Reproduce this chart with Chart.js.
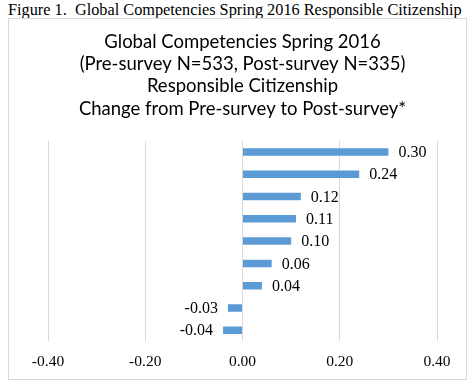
<!DOCTYPE html>
<html>
<head>
<meta charset="utf-8">
<script src="https://cdn.jsdelivr.net/npm/chart.js@4.4.0/dist/chart.umd.min.js"></script>
<style>
  body { margin: 0; background: #fff; width: 474px; height: 386px; overflow: hidden; }
  #caption { position: absolute; left: 8px; top: 0px; font-family: "Liberation Serif", serif; font-size: 16.3px; white-space: pre; color: #000; }
  #box { position: absolute; left: 8px; top: 18px; width: 457px; height: 360px; border: 1px solid #d9d9d9; }
  canvas { display: block; }
</style>
</head>
<body>
<div id="caption">Figure 1.  Global Competencies Spring 2016 Responsible Citizenship</div>
<div id="box"><canvas id="chart" width="457" height="360"></canvas></div>
<script>
// items are not named in the figure, only their change values
const items = ['Item 1', 'Item 2', 'Item 3', 'Item 4', 'Item 5', 'Item 6', 'Item 7', 'Item 8', 'Item 9'];
const changes = [0.30, 0.24, 0.12, 0.11, 0.10, 0.06, 0.04, -0.03, -0.04];
const xTicks = [-0.40, -0.20, 0.00, 0.20, 0.40];
const titleLines = [
    'Global Competencies Spring 2016',
    '(Pre-survey N=533, Post-survey N=335)',
    'Responsible Citizenship',
    'Change from Pre-survey to Post-survey*'
];

const valueLabels = {
    id: 'valueLabels',
    afterDatasetsDraw(chart) {
        const ctx = chart.ctx;
        const meta = chart.getDatasetMeta(0);
        ctx.save();
        ctx.font = '16px "Liberation Serif", serif';
        ctx.fillStyle = '#000';
        ctx.textBaseline = 'middle';
        meta.data.forEach((bar, i) => {
            const v = changes[i];
            if (v >= 0) {
                ctx.textAlign = 'left';
                ctx.fillText(v.toFixed(2), bar.x + 10, bar.y + 1);
            } else {
                ctx.textAlign = 'right';
                ctx.fillText(v.toFixed(2), bar.x - 10, bar.y + 1);
            }
        });
        ctx.restore();
    }
};

const ctx = document.getElementById('chart').getContext('2d');
new Chart(ctx, {
    type: 'bar',
    data: {
        labels: items,
        datasets: [{
            data: changes,
            backgroundColor: '#5b9bd5',
            barPercentage: 0.6,
            categoryPercentage: 0.56
        }]
    },
    options: {
        indexAxis: 'y',
        responsive: false,
        animation: false,
        layout: { padding: { left: 39, right: 29, top: 0, bottom: -3 } },
        plugins: {
            legend: { display: false },
            tooltip: { enabled: false },
            title: {
                display: true,
                text: titleLines,
                color: '#000',
                font: { family: 'Lato', size: 18.5, weight: 'normal', lineHeight: 1.2 },
                padding: { top: 12, bottom: 21 }
            }
        },
        scales: {
            x: {
                min: -0.4,
                max: 0.4,
                afterBuildTicks(axis) {
                    axis.ticks = xTicks.map(v => ({ value: v }));
                },
                grid: { color: '#d9d9d9', drawTicks: false },
                border: { display: false },
                ticks: {
                    padding: 11,
                    color: '#000',
                    font: { family: 'Liberation Serif', size: 15.5 },
                    callback: v => v.toFixed(2)
                }
            },
            y: {
                display: false
            }
        }
    },
    plugins: [valueLabels]
});
</script>
</body>
</html>
